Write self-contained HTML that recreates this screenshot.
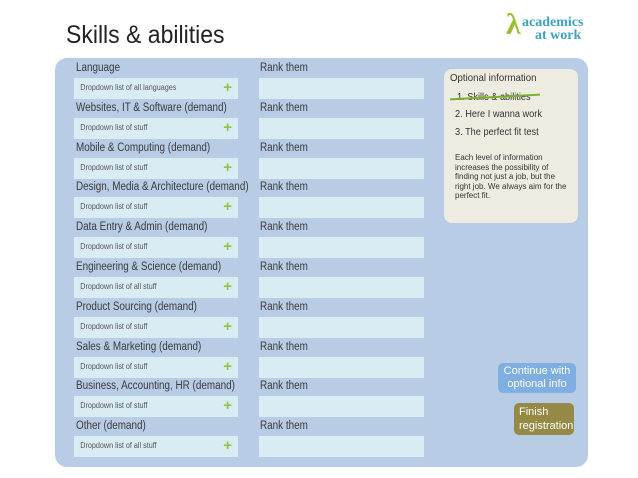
<!DOCTYPE html>
<html><head><meta charset="utf-8"><style>
body{margin:0;width:638px;height:478px;background:#fff;position:relative;overflow:hidden;font-family:"Liberation Sans",sans-serif;color:#333}
.a{position:absolute}
.panel{left:55px;top:58px;width:533px;height:409px;background:#b9cce6;border-radius:12px}
.lbl{font-size:11.5px;color:#3a3a3a;white-space:nowrap;transform:scaleX(0.86);transform-origin:left top}
.fld{background:#d9ebf3;height:21px}
.ph{font-size:8px;color:#555;padding:5px 0 0 7px;transform:scaleX(0.9);transform-origin:left top;white-space:nowrap}
.plus{position:absolute;right:6px;top:1px;color:#8cc63f;font-weight:bold;font-size:15px}
</style></head><body>
<div class="a" style="left:66px;top:21px;font-size:25px;color:#222;transform:scaleX(0.92);transform-origin:left top">Skills &amp; abilities</div>
<div class="a" style="left:508px;top:16px;font-family:'Liberation Serif',serif;color:#3aa3c4;font-size:14px;line-height:13px;font-weight:bold">
<span style="color:#9bbf2e;font-size:30px;position:absolute;left:-2px;top:2px">λ</span>
<div style="margin-left:14px">academics</div><div style="margin-left:27px">at work</div></div>
<div class="a panel"></div>
<div id="rows"></div>
<div class="a" style="left:444px;top:69px;width:134px;height:154px;background:#eeece0;border-radius:8px">
<div style="position:absolute;left:6px;top:3px;font-size:10.5px;transform:scaleX(0.92);transform-origin:left top">Optional information</div>
<div style="position:absolute;left:13px;top:23px;font-size:10px;transform:scaleX(0.92);transform-origin:left top">1. Skills &amp; abilities</div>
<div style="position:absolute;left:6px;top:27px;width:90px;height:2px;background:#7ab030;transform:rotate(-3deg)"></div>
<div style="position:absolute;left:11px;top:40px;font-size:10px;transform:scaleX(0.92);transform-origin:left top">2. Here I wanna work</div>
<div style="position:absolute;left:11px;top:58px;font-size:10px;transform:scaleX(0.92);transform-origin:left top">3. The perfect fit test</div>
<div style="position:absolute;left:11px;top:84px;width:112px;font-size:8px;line-height:9.5px">Each level of information increases the possibility of finding not just a job, but the right job. We always aim for the perfect fit.</div>
</div>
<div class="a" style="left:498px;top:363px;width:78px;height:30px;background:#7eaee2;border-radius:5px;color:#fff;font-size:11px;line-height:13px;text-align:center;padding-top:2px;box-sizing:border-box">Continue with<br>optional info</div>
<div class="a" style="left:514px;top:403px;width:60px;height:32px;background:#958a45;border-radius:5px;color:#fff;font-size:11px;line-height:14px;padding:2px 0 0 5px;box-sizing:border-box">Finish<br>registration</div>
<script>
const labels=["Language","Websites, IT & Software (demand)","Mobile & Computing (demand)","Design, Media & Architecture (demand)","Data Entry & Admin (demand)","Engineering & Science (demand)","Product Sourcing (demand)","Sales & Marketing (demand)","Business, Accounting, HR  (demand)","Other (demand)"];
const phs=["Dropdown list of all languages","Dropdown list of stuff","Dropdown list of stuff","Dropdown list of stuff","Dropdown list of stuff","Dropdown list of all stuff","Dropdown list of stuff","Dropdown list of stuff","Dropdown list of stuff","Dropdown list of all stuff"];
const root=document.getElementById('rows');
labels.forEach((l,i)=>{
 const y=62+i*39.8;
 const a=document.createElement('div');a.className='a lbl';a.style.left='76px';a.style.top=y+'px';a.textContent=l;
 
 root.appendChild(a);
 const r=document.createElement('div');r.className='a lbl';r.style.left='260px';r.style.top=y+'px';r.textContent='Rank them';
 
 root.appendChild(r);
 const f=document.createElement('div');f.className='a fld';f.style.left='74px';f.style.top=(y+16)+'px';f.style.width='164px';
 f.innerHTML='<div class="ph">'+phs[i]+'</div><span class="plus">+</span>';
 
 root.appendChild(f);
 const g=document.createElement('div');g.className='a fld';g.style.left='259px';g.style.top=(y+16)+'px';g.style.width='165px';
 
 root.appendChild(g);
});
</script>
</body></html>
